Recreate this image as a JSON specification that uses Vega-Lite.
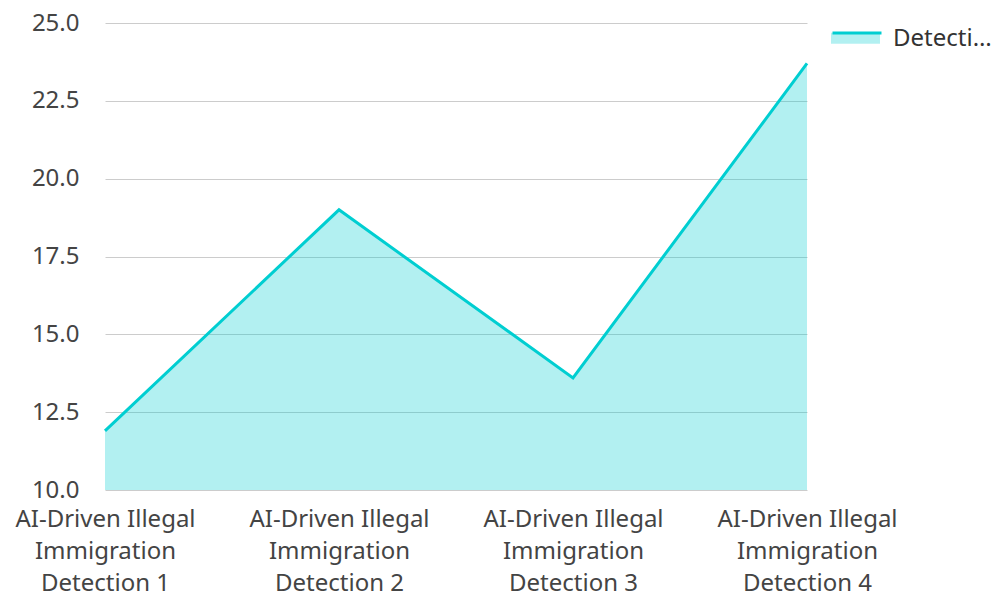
{
  "$schema": "https://vega.github.io/schema/vega-lite/v6.json",
  "width": 702,
  "height": 467,
  "autosize": "none",
  "padding": {"left": 105, "top": 23, "right": 187, "bottom": 104},
  "config": {
    "font": "Noto Sans",
    "view": {"stroke": null}
  },
  "data": {
    "values": [
      {"name": "AI-Driven Illegal Immigration Detection 1", "series": "Detection Accuracy", "value": 11.9},
      {"name": "AI-Driven Illegal Immigration Detection 2", "series": "Detection Accuracy", "value": 19.0},
      {"name": "AI-Driven Illegal Immigration Detection 3", "series": "Detection Accuracy", "value": 13.6},
      {"name": "AI-Driven Illegal Immigration Detection 4", "series": "Detection Accuracy", "value": 23.7}
    ]
  },
  "encoding": {
    "x": {
      "field": "name", "type": "ordinal",
      "scale": {"type": "point", "padding": 0},
      "axis": {"labelAngle": 0, "grid": false, "domain": false, "ticks": false, "title": null,
        "labelFont": "Noto Sans", "labelFontSize": 24, "labelColor": "#444444",
        "labelPadding": 17, "labelLineHeight": 32, "labelLimit": 300,
        "labelExpr": "[slice(datum.label,0,17), slice(datum.label,18,29), slice(datum.label,30)]"}
    },
    "y": {
      "field": "value", "type": "quantitative",
      "scale": {"domain": [10, 25], "nice": false, "zero": false},
      "axis": {"values": [10, 12.5, 15, 17.5, 20, 22.5, 25], "format": ".1f", "domain": false, "ticks": false, "title": null,
        "labelFont": "Noto Sans", "labelFontSize": 24, "labelColor": "#444444",
        "labelPadding": 26, "grid": true, "gridColor": "#cccccc"}
    }
  },
  "layer": [
    {
      "mark": {"type": "area", "fillOpacity": 0.3, "clip": true},
      "encoding": {
        "fill": {"field": "series", "type": "nominal", "scale": {"range": ["#00CED1"]},
          "legend": {"orient": "none", "legendX": 726, "legendY": -10, "title": null, "labelFont": "Noto Sans", "labelFontSize": 24, "labelColor": "#333333", "labelLimit": 100, "labelOpacity": 0,
            "symbolType": "M-1,-0.19H1V0.26H-1Z", "symbolSize": 2400, "symbolOpacity": 0.3, "symbolStrokeWidth": 0, "labelOffset": 10}}
      }
    },
    {
      "mark": {"type": "line", "strokeWidth": 3},
      "encoding": {
        "stroke": {"field": "series", "type": "nominal", "scale": {"range": ["#00CED1"]},
          "legend": {"orient": "none", "legendX": 726, "legendY": -10, "title": null, "labelFont": "Noto Sans", "labelFontSize": 24, "labelColor": "#333333", "labelLimit": 100,
            "symbolType": "M-1,-0.25H1", "symbolSize": 2400, "symbolStrokeWidth": 3, "labelOffset": 10}}
      }
    }
  ],
  "resolve": {"scale": {"fill": "independent", "stroke": "independent"}, "legend": {"fill": "independent", "stroke": "independent"}}
}
